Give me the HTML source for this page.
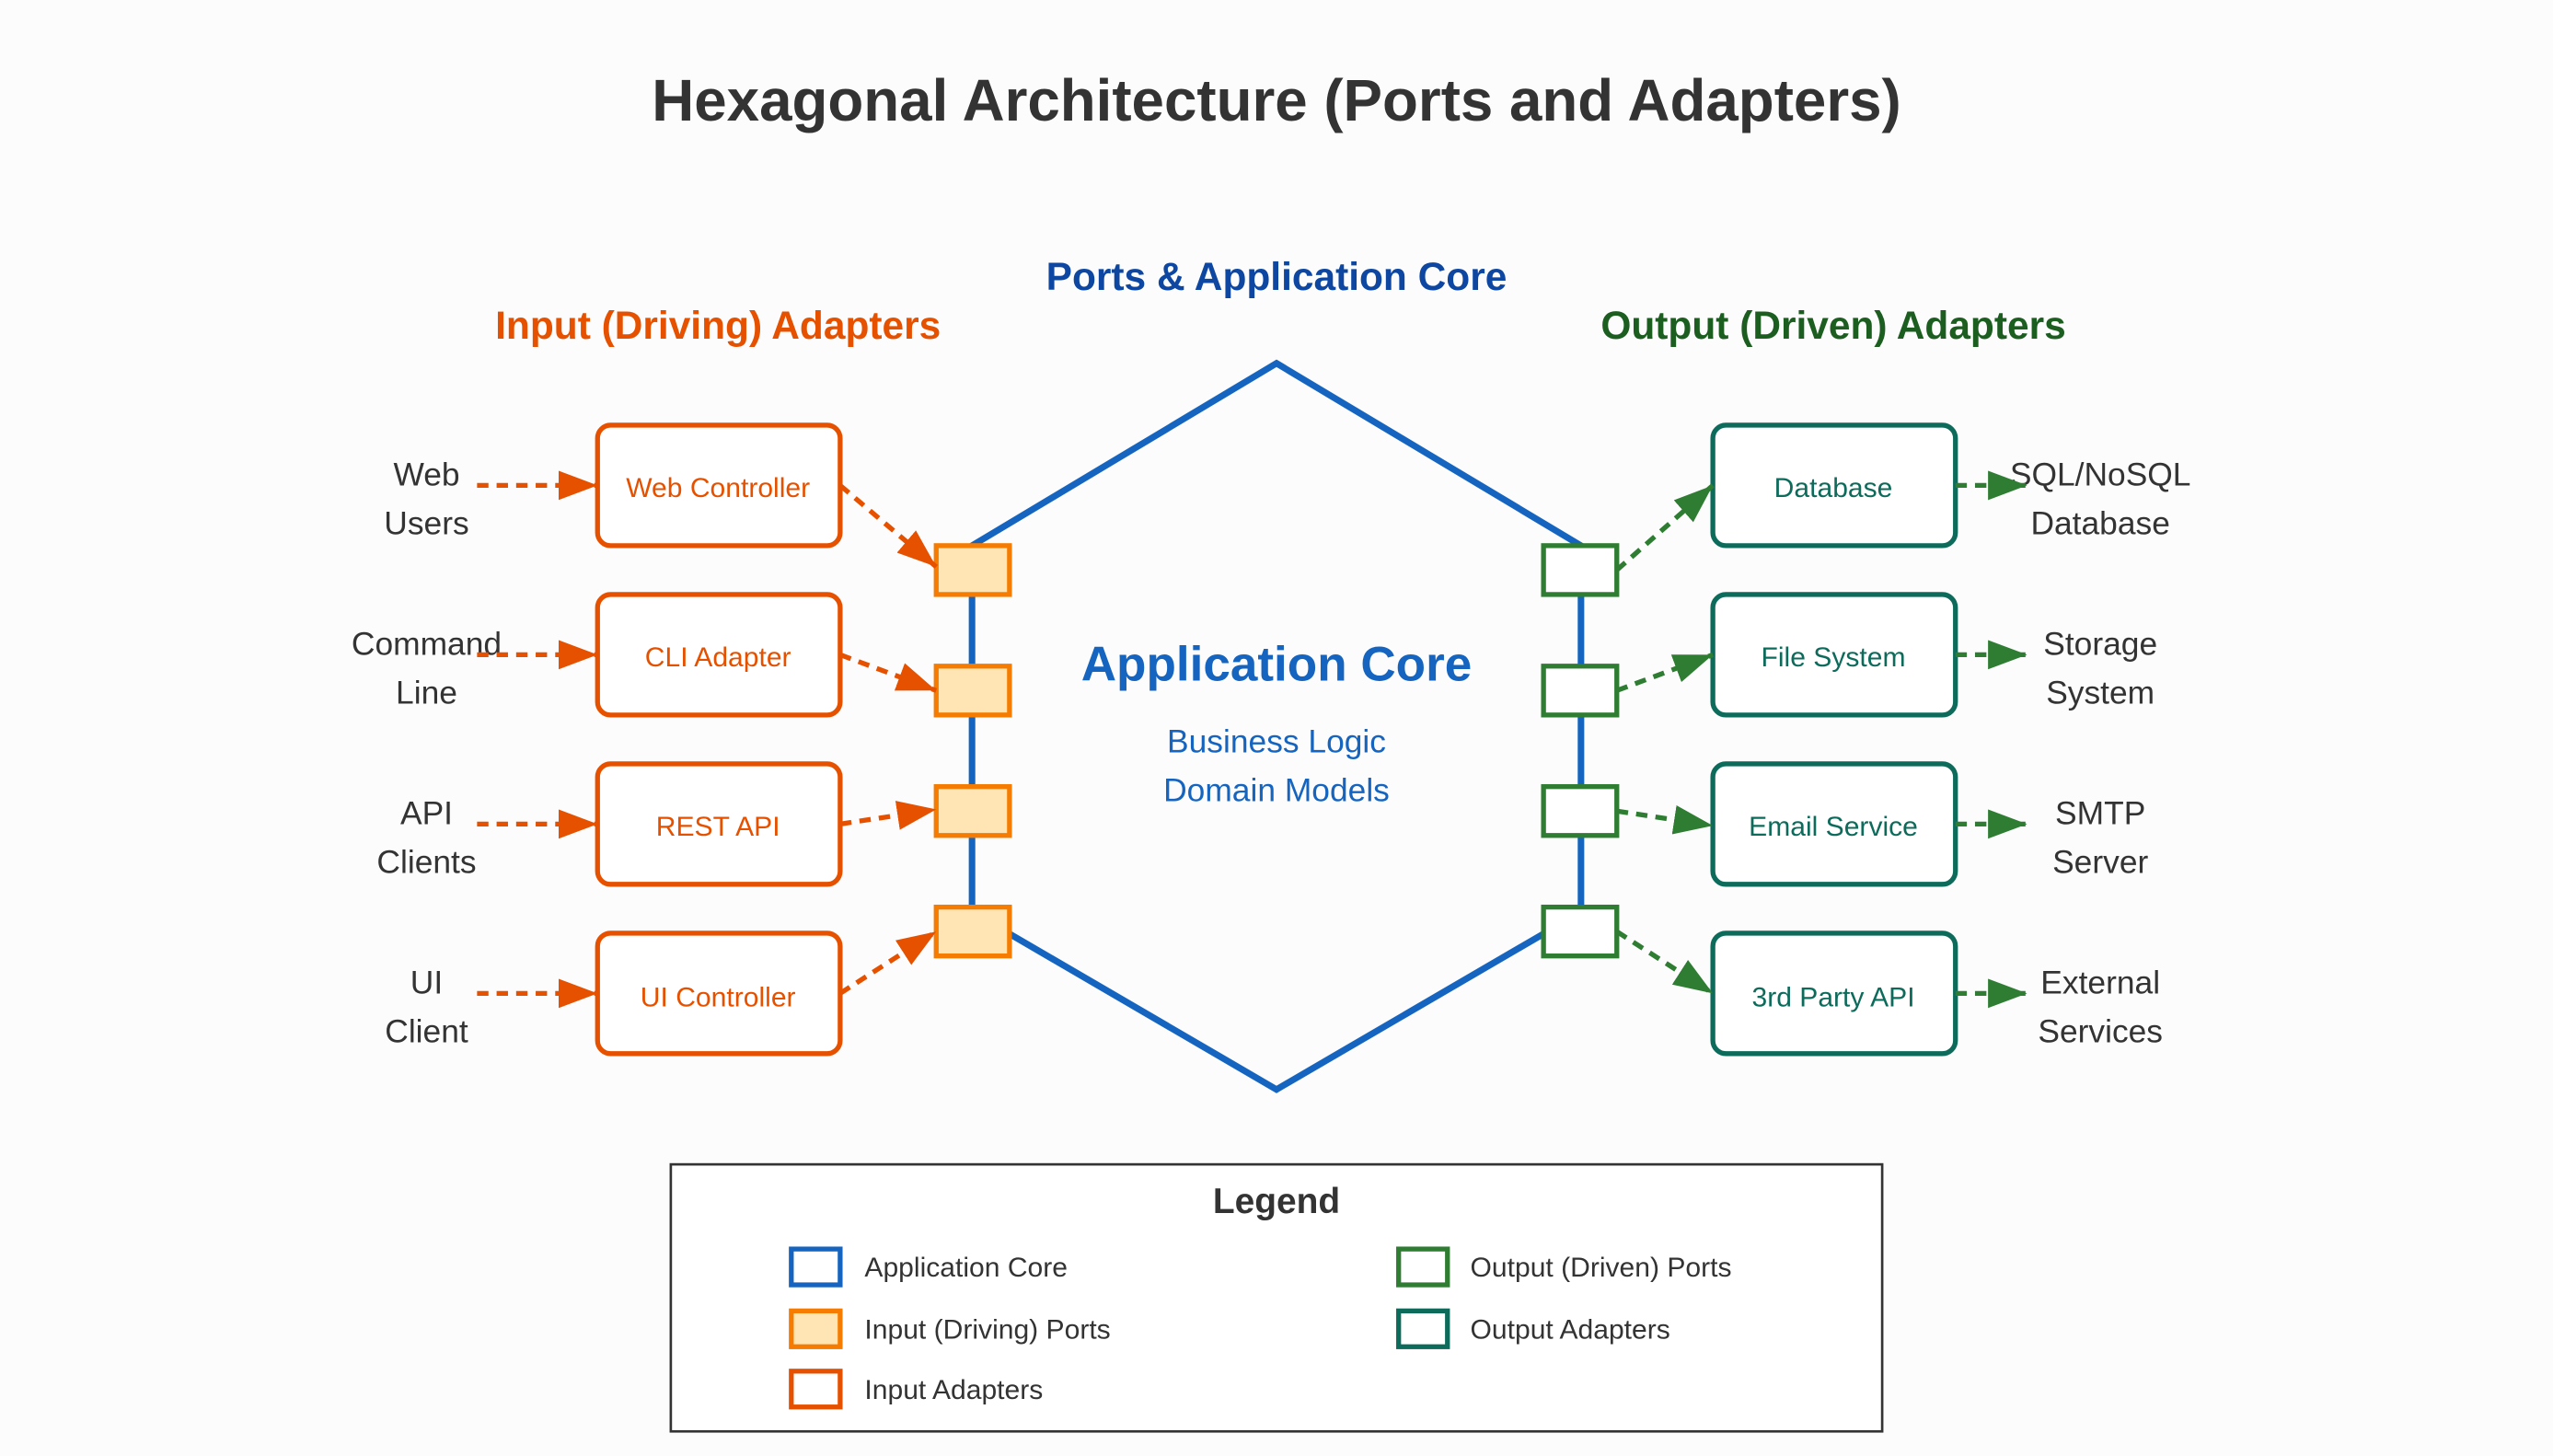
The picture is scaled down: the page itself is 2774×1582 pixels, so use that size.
<!DOCTYPE html>
<html><head><meta charset="utf-8"><style>
html,body{margin:0;padding:0;background:#fcfcfc;}
svg{display:block;font-family:"Liberation Sans",Arial,sans-serif;}
</style></head><body>
<svg width="2774" height="1582" viewBox="0 0 1568 894" xmlns="http://www.w3.org/2000/svg">
<defs>
<marker id="ao" markerUnits="userSpaceOnUse" markerWidth="26" markerHeight="20" refX="24" refY="9" orient="auto"><path d="M0,0 L24,9 L0,18 Z" fill="#e65100"/></marker>
<marker id="ag" markerUnits="userSpaceOnUse" markerWidth="26" markerHeight="20" refX="24" refY="9" orient="auto"><path d="M0,0 L24,9 L0,18 Z" fill="#2e7d32"/></marker>
</defs>
<rect width="1568" height="894" fill="#fcfcfc"/>
<text x="784" y="74" text-anchor="middle" font-size="36" font-weight="bold" fill="#333">Hexagonal Architecture (Ports and Adapters)</text>
<text x="784" y="178" text-anchor="middle" font-size="24" font-weight="bold" fill="#0d47a1">Ports &amp; Application Core</text>
<text x="441" y="208" text-anchor="middle" font-size="24" font-weight="bold" fill="#e65100">Input (Driving) Adapters</text>
<text x="1126" y="208" text-anchor="middle" font-size="24" font-weight="bold" fill="#1b5e20">Output (Driven) Adapters</text>

<polygon points="784,223 971,335 971,560 784,669 597,560 597,335" fill="none" stroke="#1565c0" stroke-width="4"/>
<text x="784" y="418" text-anchor="middle" font-size="30" font-weight="bold" fill="#1565c0">Application Core</text>
<text x="784" y="462" text-anchor="middle" font-size="20" fill="#1565c0">Business Logic</text>
<text x="784" y="492" text-anchor="middle" font-size="20" fill="#1565c0">Domain Models</text>

<g fill="#ffe5b4" stroke="#f57c00" stroke-width="3">
<rect x="575" y="335" width="45" height="30"/><rect x="575" y="409" width="45" height="30"/>
<rect x="575" y="483" width="45" height="30"/><rect x="575" y="557" width="45" height="30"/>
</g>
<g fill="#fff" stroke="#2e7d32" stroke-width="3">
<rect x="948" y="335" width="45" height="30"/><rect x="948" y="409" width="45" height="30"/>
<rect x="948" y="483" width="45" height="30"/><rect x="948" y="557" width="45" height="30"/>
</g>

<g fill="#fff" stroke="#e65100" stroke-width="3">
<rect x="367" y="261" width="149" height="74" rx="8"/><rect x="367" y="365" width="149" height="74" rx="8"/>
<rect x="367" y="469" width="149" height="74" rx="8"/><rect x="367" y="573" width="149" height="74" rx="8"/>
</g>
<g fill="#fff" stroke="#0d6b5b" stroke-width="3">
<rect x="1052" y="261" width="149" height="74" rx="8"/><rect x="1052" y="365" width="149" height="74" rx="8"/>
<rect x="1052" y="469" width="149" height="74" rx="8"/><rect x="1052" y="573" width="149" height="74" rx="8"/>
</g>
<g font-size="17" text-anchor="middle" fill="#e65100">
<text x="441" y="305">Web Controller</text><text x="441" y="409">CLI Adapter</text>
<text x="441" y="513">REST API</text><text x="441" y="618">UI Controller</text>
</g>
<g font-size="17" text-anchor="middle" fill="#0d6b5b">
<text x="1126" y="305">Database</text><text x="1126" y="409">File System</text>
<text x="1126" y="513">Email Service</text><text x="1126" y="618">3rd Party API</text>
</g>
<g font-size="20" text-anchor="middle" fill="#333">
<text x="262" y="298">Web</text><text x="262" y="328">Users</text>
<text x="262" y="402">Command</text><text x="262" y="432">Line</text>
<text x="262" y="506">API</text><text x="262" y="536">Clients</text>
<text x="262" y="610">UI</text><text x="262" y="640">Client</text>
<text x="1290" y="298">SQL/NoSQL</text><text x="1290" y="328">Database</text>
<text x="1290" y="402">Storage</text><text x="1290" y="432">System</text>
<text x="1290" y="506">SMTP</text><text x="1290" y="536">Server</text>
<text x="1290" y="610">External</text><text x="1290" y="640">Services</text>
</g>

<g stroke="#e65100" stroke-width="3" stroke-dasharray="7,5" fill="none" marker-end="url(#ao)">
<line x1="293" y1="298" x2="367" y2="298"/><line x1="293" y1="402" x2="367" y2="402"/>
<line x1="293" y1="506" x2="367" y2="506"/><line x1="293" y1="610" x2="367" y2="610"/>
<line x1="516" y1="298" x2="575" y2="348"/><line x1="516" y1="402" x2="575" y2="424"/>
<line x1="516" y1="506" x2="575" y2="497"/><line x1="516" y1="610" x2="575" y2="572"/>
</g>
<g stroke="#2e7d32" stroke-width="3" stroke-dasharray="7,5" fill="none" marker-end="url(#ag)">
<line x1="993" y1="350" x2="1052" y2="298"/><line x1="993" y1="424" x2="1052" y2="402"/>
<line x1="993" y1="498" x2="1052" y2="507"/><line x1="993" y1="572" x2="1052" y2="610"/>
<line x1="1201" y1="298" x2="1245" y2="298"/><line x1="1201" y1="402" x2="1245" y2="402"/>
<line x1="1201" y1="506" x2="1245" y2="506"/><line x1="1201" y1="610" x2="1245" y2="610"/>
</g>

<rect x="412" y="715" width="744" height="164" fill="#fff" stroke="#333" stroke-width="1.5"/>
<text x="784" y="745" text-anchor="middle" font-size="22" font-weight="bold" fill="#333">Legend</text>
<rect x="486" y="767" width="30" height="22" fill="#fff" stroke="#1565c0" stroke-width="3"/>
<rect x="486" y="805" width="30" height="22" fill="#ffe5b4" stroke="#f57c00" stroke-width="3"/>
<rect x="486" y="842" width="30" height="22" fill="#fff" stroke="#e65100" stroke-width="3"/>
<rect x="859" y="767" width="30" height="22" fill="#fff" stroke="#2e7d32" stroke-width="3"/>
<rect x="859" y="805" width="30" height="22" fill="#fff" stroke="#0d6b5b" stroke-width="3"/>
<g font-size="17" fill="#333">
<text x="531" y="784">Application Core</text><text x="531" y="822">Input (Driving) Ports</text>
<text x="531" y="859">Input Adapters</text>
<text x="903" y="784">Output (Driven) Ports</text><text x="903" y="822">Output Adapters</text>
</g>
</svg>
</body></html>
